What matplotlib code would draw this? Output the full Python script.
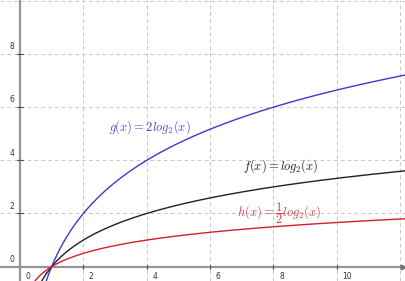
import numpy as np
import matplotlib
matplotlib.use("Agg")
import matplotlib.pyplot as plt

plt.rcParams['mathtext.fontset'] = 'cm'

# functions and their labels
factors = [2.0, 1.0, 0.5]
names = ['g', 'f', 'h']
colors = ['#3a3ad0', '#202020', '#d02030']
label_colors = ['#4a4ad0', '#202020', '#d04050']
labels = [r'$g(x) = 2log_2(x)$', r'$f(x) = log_2(x)$', r'$h(x) = \dfrac{1}{2}log_2(x)$']
label_pos = [(2.82, 5.25), (7.03, 3.78), (6.85, 2.02)]

xticks = [0, 2, 4, 6, 8, 10]
yticks = [0, 2, 4, 6, 8]

fig = plt.figure(figsize=(4.05, 2.81), dpi=100)
ax = fig.add_axes([0, 0, 1, 1])
ax.set_xlim(-0.63, 12.15)
ax.set_ylim(-0.54, 10.03)

# dashed grid
for gx in range(2, 14, 2):
    ax.axvline(gx, color='#c8c8c8', lw=0.7, ls=(0, (4, 3)), zorder=0)
for gy in range(2, 12, 2):
    ax.axhline(gy, color='#c8c8c8', lw=0.7, ls=(0, (4, 3)), zorder=0)

# axes through origin
for s in ax.spines.values():
    s.set_visible(False)
ax.axhline(0, color='#959595', lw=1.6, zorder=1)
ax.axvline(0, color='#959595', lw=1.6, zorder=1)
ax.plot([12.08], [0], marker='>', color='#707070', ms=3.5, clip_on=False, zorder=1)
ax.set_xticks([])
ax.set_yticks([])

# tick marks and labels
for t in xticks:
    if t != 0:
        ax.plot([t, t], [-0.08, 0.08], color='#555555', lw=0.8, zorder=2)
    ax.annotate(str(t), (t, 0), xytext=(4, -4), textcoords='offset points',
                fontsize=5.5, color='#333333', ha='left', va='top')
for t in yticks:
    if t != 0:
        ax.plot([-0.1, 0.1], [t, t], color='#555555', lw=0.8, zorder=2)
    ax.annotate(str(t), (0, t), xytext=(-4, 2), textcoords='offset points',
                fontsize=5.5, color='#333333', ha='right', va='bottom')

x = np.linspace(0.3, 12.2, 600)
for k, c, lc, lab, (lx, ly) in zip(factors, colors, label_colors, labels, label_pos):
    ax.plot(x, k * np.log2(x), color=c, lw=1.0, zorder=3)
    ax.text(lx, ly, lab, color=lc, fontsize=9, ha='left', va='center', zorder=4)

fig.savefig('out.png', dpi=100)
